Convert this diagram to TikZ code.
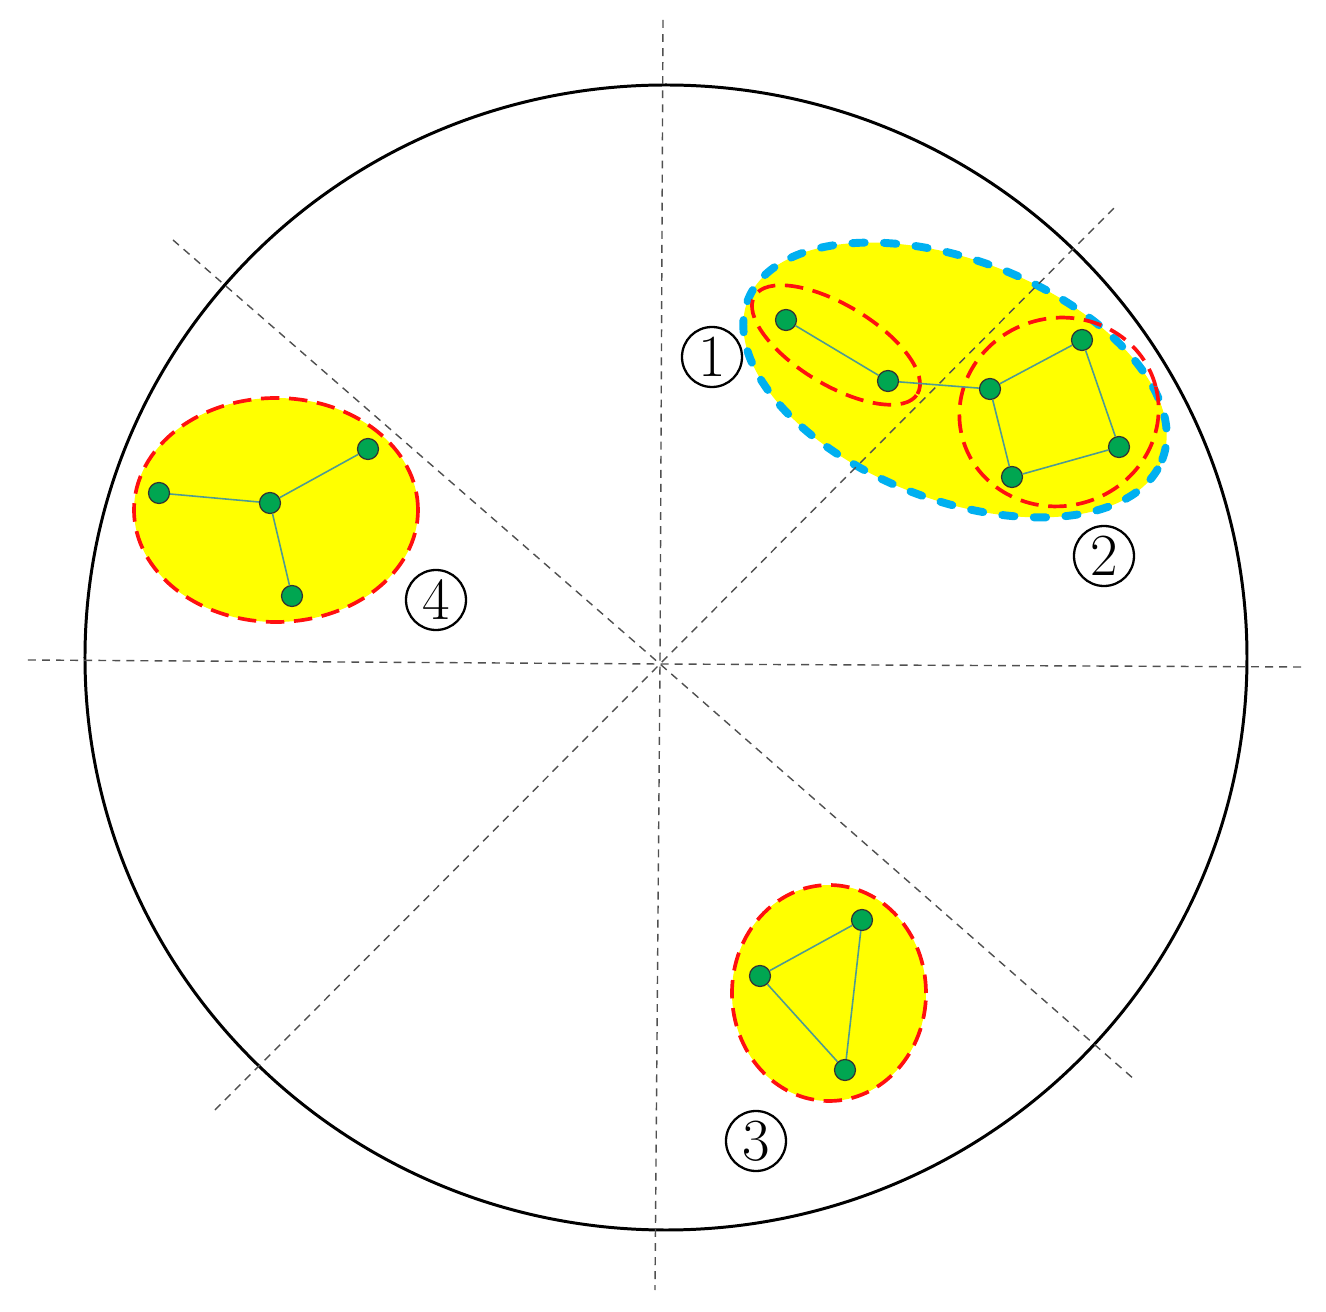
\documentclass[tikz,border=0pt]{standalone}
\usepackage{fontspec}
\definecolor{dgYellow}{HTML}{FFFF00}
\definecolor{dgRed}{HTML}{FF1010}
\definecolor{dgBlue}{HTML}{00B0F0}
\definecolor{dgGreen}{HTML}{00A651}
\definecolor{dgEdge}{HTML}{4F9A92}
\definecolor{dgAxis}{HTML}{505050}
\usetikzlibrary{positioning}

\tikzset{
  vertex/.style={circle, fill=dgGreen, draw=black!80, line width=0.7pt, minimum size=0.42cm, inner sep=0pt},
  link/.style={draw=dgEdge, line width=0.9pt},
  cluster/.style={fill=dgYellow, draw=dgRed, line width=2.1pt, dash pattern=on 10.5pt off 5.5pt},
  subcluster/.style={draw=dgRed, line width=2.1pt, dash pattern=on 10.5pt off 5.5pt},
  merged/.style={fill=dgYellow, draw=dgBlue, line width=4.5pt, dash pattern=on 7pt off 11pt, line cap=round},
  axis/.style={draw=dgAxis, line width=0.8pt, dash pattern=on 4.5pt off 3.5pt},
  tag/.style={circle, draw=black, line width=1.3pt, minimum size=1.2cm, inner sep=0pt, font=\fontsize{34}{34}\selectfont}
}

\begin{document}
\begin{tikzpicture}
  \useasboundingbox (-13.2,-12.96) rectangle (13.32,13.28);
  \fill[white] (-13.2,-12.96) rectangle (13.32,13.28);

  % outer boundary
  \draw[line width=1.7pt] (0.12,0.13) ellipse [x radius=11.62, y radius=11.45];

  % clusters
  \path[merged] (5.9,5.68) ellipse [x radius=4.44, y radius=2.4, rotate=-21];
  \path[subcluster] (3.52,6.38) ellipse [x radius=1.9, y radius=0.8, rotate=-31];
  \path[subcluster] (7.98,5.04) ellipse [x radius=2.0, y radius=1.88, rotate=15];
  \path[cluster] (-7.68,3.08) ellipse [x radius=2.84, y radius=2.24];
  \path[cluster] (3.38,-6.58) ellipse [x radius=1.94, y radius=2.16];

  % partition lines
  \coordinate (o) at (0,0);
  \coordinate (n) at (0.06,12.88);  \coordinate (s) at (-0.1,-12.52);
  \coordinate (w) at (-12.64,0.08); \coordinate (e) at (12.84,-0.06);
  \coordinate (nw) at (-9.74,8.48); \coordinate (se) at (9.5,-8.32);
  \coordinate (sw) at (-8.9,-8.92); \coordinate (ne) at (9.14,9.18);
  \draw[axis] (n) -- (o) -- (s);
  \draw[axis] (w) -- (o) -- (e);
  \draw[axis] (nw) -- (o) -- (se);
  \draw[axis] (sw) -- (o) -- (ne);

  % group 1 and 2
  \node[vertex] (a1) at (2.52,6.88) {};
  \node[vertex] (a2) at (4.56,5.66) {};
  \node[vertex] (b1) at (6.6,5.5) {};
  \node[vertex] (b2) at (8.44,6.48) {};
  \node[vertex] (b3) at (9.18,4.34) {};
  \node[vertex] (b4) at (7.04,3.74) {};
  \path[link] (a1) -- (a2) -- (b1) -- (b2) -- (b3) -- (b4) -- (b1);

  % group 4
  \node[vertex] (d0) at (-7.8,3.22) {};
  \node[vertex] (d1) at (-10.02,3.42) {};
  \node[vertex] (d2) at (-5.84,4.3) {};
  \node[vertex] (d3) at (-7.36,1.36) {};
  \path[link] (d0) -- (d1) (d0) -- (d2) (d0) -- (d3);

  % group 3
  \node[vertex] (c1) at (4.04,-5.12) {};
  \node[vertex] (c2) at (2.0,-6.24) {};
  \node[vertex] (c3) at (3.7,-8.12) {};
  \path[link] (c1) -- (c2) -- (c3) -- (c1);

  % labels
  \node[tag] (t1) at (1.04,6.14) {1};
  \node[tag] (t2) at (8.88,2.16) {2};
  \node[tag] (t3) at (1.92,-9.54) {3};
  \node[tag] (t4) at (-4.48,1.28) {4};
\end{tikzpicture}
\end{document}
